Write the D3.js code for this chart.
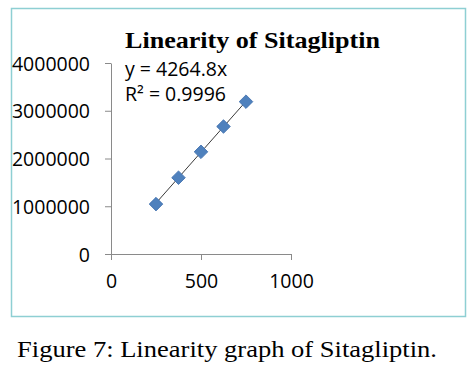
<!DOCTYPE html>
<html>
<head>
<meta charset="utf-8">
<script src="https://cdn.jsdelivr.net/npm/d3@7.9.0/dist/d3.min.js"></script>
<style>
  body { margin: 0; background: #fff; }
  svg { display: block; }
</style>
</head>
<body>
<svg id="chart" width="474" height="387"></svg>
<script>
// data
const concentrations = [250, 375, 500, 625, 750];
const areas = [1045000, 1598000, 2140000, 2670000, 3190000];
const slope = 4264.8;
const xTicks = [0, 500, 1000];
const yTicks = [0, 1000000, 2000000, 3000000, 4000000];

const svg = d3.select('#chart');
const sans = '"Open Sans", sans-serif';
const serif = '"Liberation Serif", "Times New Roman", serif';

// outer chart frame
svg.append('rect')
    .attr('x', 11.5).attr('y', 8.5)
    .attr('width', 454).attr('height', 308)
    .attr('fill', '#fff')
    .attr('stroke', '#8ecfd3')
    .attr('stroke-width', 1.5);

let x = d3.scaleLinear().domain([0, 1000]).range([111, 291]);
let y = d3.scaleLinear().domain([0, 4000000]).range([254, 63]);

// axes
let xAxis = d3.axisBottom(x).tickValues(xTicks).tickSize(6).tickSizeOuter(0).tickFormat(d3.format('d'));
let yAxis = d3.axisLeft(y).tickValues(yTicks).tickSize(6).tickSizeOuter(0).tickFormat(d3.format('d'));

let gx = svg.append('g').attr('transform', `translate(0,${y(0)})`).call(xAxis);
let gy = svg.append('g').attr('transform', `translate(${x(0)},0)`).call(yAxis);

[gx, gy].forEach((g) => {
    g.select('.domain').attr('stroke', '#8a8a8a');
    g.selectAll('.tick line').attr('stroke', '#8a8a8a');
    g.selectAll('.tick text')
        .attr('fill', '#000')
        .style('font-family', sans)
        .style('font-size', '19.5px');
});
gx.selectAll('.tick text').attr('dy', null).attr('y', 34);
gy.selectAll('.tick text').attr('dy', null).attr('y', 7).attr('x', -21);

// trendline
svg.append('line')
    .attr('x1', x(concentrations[0])).attr('y1', y(slope * concentrations[0]))
    .attr('x2', x(concentrations[concentrations.length - 1]))
    .attr('y2', y(slope * concentrations[concentrations.length - 1]))
    .attr('stroke', '#3a3a3a')
    .attr('stroke-width', 1);

// markers
let diamond = d3.symbol().type(d3.symbolSquare).size(92);
svg.append('g')
    .selectAll('path')
    .data(concentrations)
    .join('path')
    .attr('d', diamond)
    .attr('transform', (d, i) => `translate(${x(d)},${y(areas[i])}) rotate(45)`)
    .attr('fill', '#4f81bd')
    .attr('stroke', '#3f6fae')
    .attr('stroke-width', 0.8);

// title
svg.append('text')
    .attr('x', 125).attr('y', 48)
    .attr('textLength', 255)
    .attr('lengthAdjust', 'spacingAndGlyphs')
    .style('font-family', serif)
    .style('font-weight', 'bold')
    .style('font-size', '24px')
    .text('Linearity of Sitagliptin');

// equation label
svg.append('text')
    .attr('x', 125).attr('y', 76)
    .style('font-family', sans).style('font-size', '19.5px')
    .text('y = 4264.8x');
svg.append('text')
    .attr('x', 125).attr('y', 101)
    .style('font-family', sans).style('font-size', '19.5px')
    .text('R² = 0.9996');

// figure caption
svg.append('text')
    .attr('x', 17).attr('y', 357)
    .attr('textLength', 420)
    .attr('lengthAdjust', 'spacingAndGlyphs')
    .style('font-family', serif)
    .style('font-size', '23px')
    .text('Figure 7: Linearity graph of Sitagliptin.');
</script>
</body>
</html>
